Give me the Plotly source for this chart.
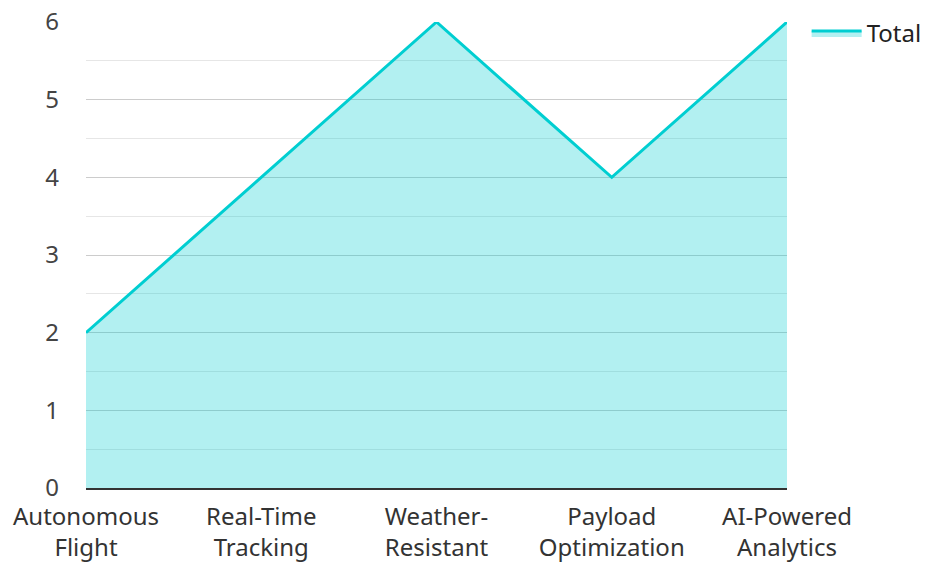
import plotly.graph_objects as go

categories = ["Autonomous<br>Flight", "Real-Time<br>Tracking", "Weather-<br>Resistant",
              "Payload<br>Optimization", "AI-Powered<br>Analytics"]
totals = [2, 4, 6, 4, 6]
series_name = "Total"

fig = go.Figure()
fig.add_trace(go.Scatter(
    x=categories, y=totals, name=series_name, mode="lines",
    line=dict(color="rgb(0,206,209)", width=3),
    fill="tozeroy", fillcolor="rgba(0,206,209,0.3)",
))

fig.update_layout(
    width=928, height=562,
    margin=dict(l=86, r=141, t=22, b=74, autoexpand=False),
    paper_bgcolor="white", plot_bgcolor="white",
    font=dict(family="Noto Sans", size=24, color="#333"),
    showlegend=True,
    legend=dict(x=1.028, y=1.024, xanchor="left", yanchor="top", itemwidth=50,
                font=dict(size=24, color="#222"), bgcolor="rgba(0,0,0,0)"),
    xaxis=dict(range=[0, 4], showgrid=False, showline=True, linecolor="#333",
               linewidth=2, ticks="", tickfont=dict(size=24), automargin=False,
               ticklabelstandoff=6),
    yaxis=dict(range=[0, 6], dtick=1, showgrid=True, gridcolor="#ccc", gridwidth=1,
               zeroline=False, showline=False, ticks="", ticklen=0, automargin=False,
               minor=dict(dtick=0.5, showgrid=True, gridcolor="#e6e6e6", gridwidth=1),
               tickfont=dict(size=24, color="#444"), ticklabelstandoff=26),
)

fig.write_html("out.html")
